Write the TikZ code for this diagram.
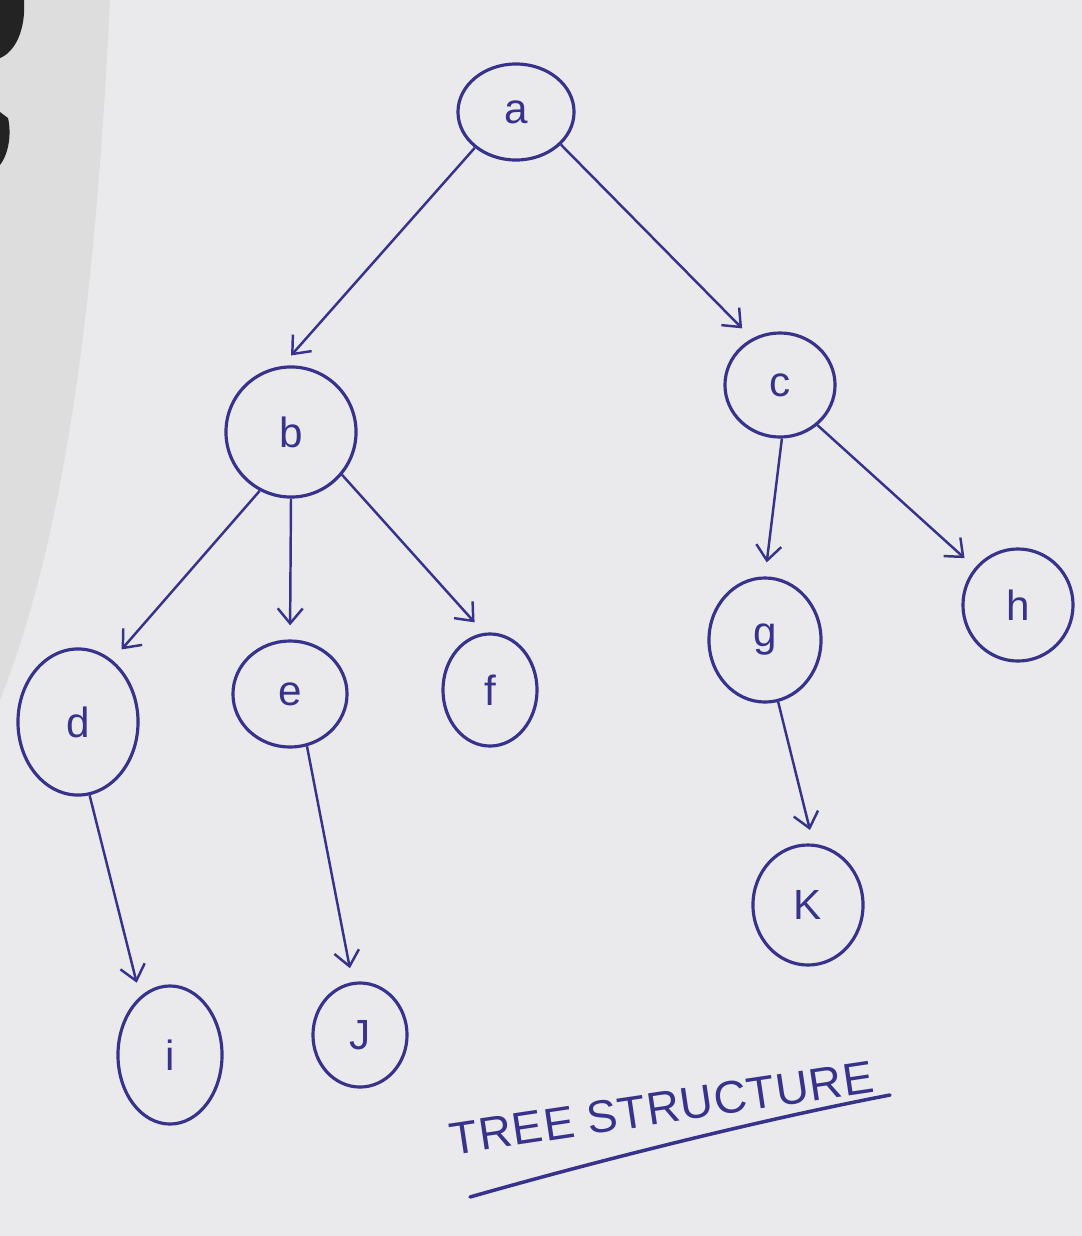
\documentclass[tikz,border=0pt]{standalone}
\usepackage{fontspec}
\setmainfont{Liberation Sans}
\usetikzlibrary{shapes.geometric,arrows.meta}
\definecolor{ink}{RGB}{55,50,140}
\definecolor{paper}{RGB}{234,234,236}
\definecolor{papershadow}{RGB}{222,221,221}
\definecolor{darkobj}{RGB}{35,35,35}
\begin{document}
\begin{tikzpicture}[x=0.01cm,y=-0.01cm,
  tnode/.style={ellipse,draw=ink,line width=0.9pt,text=ink,inner sep=0pt,font=\fontsize{12}{14}\selectfont},
  edge/.style={draw=ink,line width=0.7pt,-{Straight Barb[length=1.5mm,width=2.5mm]},shorten >=4pt}]
\fill[paper] (0,0) rectangle (1082,1236);
\useasboundingbox (0,0) rectangle (1082,1236);
\fill[papershadow] (0,0) -- (110,0) .. controls (100,200) and (80,500) .. (0,700) -- cycle;
\fill[darkobj] (0,0) -- (24,0) .. controls (26,30) and (15,52) .. (0,58) -- cycle;
\fill[darkobj] (0,112) -- (8,118) .. controls (12,135) and (8,155) .. (0,165) -- cycle;
\node[tnode,minimum width=1.16cm,minimum height=0.96cm] (a) at (516,112) {a};
\node[tnode,minimum width=1.30cm,minimum height=1.30cm] (b) at (291,432) {b};
\node[tnode,minimum width=1.10cm,minimum height=1.04cm] (c) at (780,385) {c};
\node[tnode,minimum width=1.20cm,minimum height=1.46cm] (d) at (78,722) {d};
\node[tnode,minimum width=1.14cm,minimum height=1.06cm] (e) at (290,694) {e};
\node[tnode,minimum width=0.94cm,minimum height=1.12cm] (f) at (490,690) {f};
\node[tnode,minimum width=1.12cm,minimum height=1.24cm] (g) at (765,640) {g};
\node[tnode,minimum width=1.10cm,minimum height=1.12cm] (h) at (1018,605) {h};
\node[tnode,minimum width=1.04cm,minimum height=1.38cm] (i) at (170,1055) {i};
\node[tnode,minimum width=0.94cm,minimum height=1.04cm] (j) at (360,1035) {J};
\node[tnode,minimum width=1.10cm,minimum height=1.20cm] (k) at (808,905) {K};
\draw[edge] (a.221) -- (b.98);
\draw[edge] (a.324) -- (c.121);
\draw[edge] (b.242) -- (d.61);
\draw[edge] (b.270) -- (e.90);
\draw[edge] (b.320) -- (f.96);
\draw[edge] (c.272) -- (g.90);
\draw[edge] (c.313) -- (h.139);
\draw[edge] (d.279) -- (i.117);
\draw[edge] (e.288) -- (j.98);
\draw[edge] (g.282) -- (k.85);
\node[text=ink,rotate=8.5,font=\fontsize{13}{15}\selectfont\addfontfeature{LetterSpace=2}] (title) at (662,1108) {TREE STRUCTURE};
\coordinate (u1) at (470,1197);
\coordinate (u2) at (890,1095);
\draw[ink,line width=1pt,line cap=round] (u1) .. controls (600,1160) and (760,1120) .. (u2);
\end{tikzpicture}
\end{document}
